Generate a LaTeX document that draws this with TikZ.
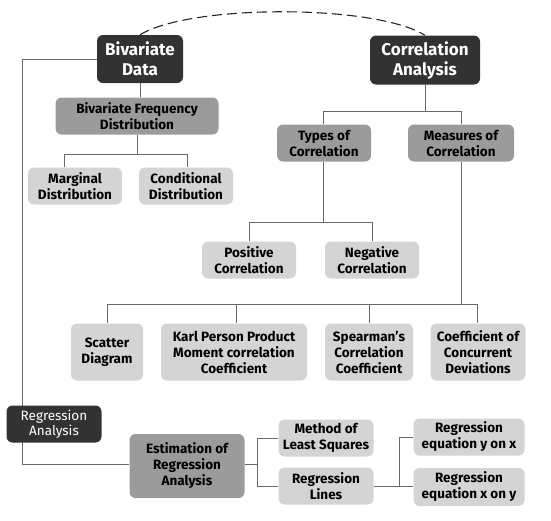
\documentclass[tikz,border=0pt]{standalone}
\usepackage{fontspec}
\setmainfont{Fira Sans}
\usepackage{tikz}
\usetikzlibrary{positioning,calc,backgrounds}
\definecolor{boxdark}{RGB}{50,50,50}
\definecolor{boxmid}{RGB}{155,155,155}
\definecolor{boxlight}{RGB}{212,212,212}
\definecolor{lnk}{RGB}{105,105,105}
\tikzset{
  bx/.style={rounded corners=6pt, align=center, inner sep=0pt},
  dkbox/.style={bx, fill=boxdark, text=white, font=\fontsize{17}{20}\selectfont\bfseries},
  dksm/.style={bx, fill=boxdark, text=white, font=\fontsize{13.5}{15}\selectfont},
  mdbox/.style={bx, fill=boxmid, font=\fontsize{13.5}{16}\selectfont\bfseries},
  ltbox/.style={bx, fill=boxlight, font=\fontsize{13.5}{16}\selectfont\bfseries},
  conn/.style={draw=lnk, line width=0.9pt},
  arcd/.style={draw=black!85, line width=1.1pt, dash pattern=on 10pt off 5pt},
}
\begin{document}
\begin{tikzpicture}[x=1pt, y=-1pt]
  \useasboundingbox (0,0) rectangle (551,520);
  % top level
  \node[dkbox, minimum width=86, minimum height=48] (bdata) at (140,59) {Bivariate\\Data};
  \node[dkbox, minimum width=110, minimum height=49] (canal) at (425,60) {Correlation\\Analysis};
  % bivariate branch
  \node[mdbox, minimum width=163, minimum height=37] (bfd) at (137,116) {Bivariate Frequency\\Distribution};
  \node[ltbox, minimum width=94, minimum height=37] (marg) at (75,186) {Marginal\\Distribution};
  \node[ltbox, minimum width=94, minimum height=37] (cond) at (186,186) {Conditional\\Distribution};
  % correlation branch
  \node[mdbox, minimum width=94, minimum height=37] (types) at (324,143) {Types of\\Correlation};
  \node[mdbox, minimum width=106, minimum height=37] (meas) at (461,143) {Measures of\\Correlation};
  \node[ltbox, minimum width=94, minimum height=37] (pos) at (249,260) {Positive\\Correlation};
  \node[ltbox, minimum width=94, minimum height=37] (neg) at (372,260) {Negative\\Correlation};
  \node[ltbox, minimum width=72, minimum height=57] (scat) at (107,352) {Scatter\\Diagram};
  \node[ltbox, minimum width=146, minimum height=57] (karl) at (234,352) {Karl Person Product\\Moment correlation\\Coefficient};
  \node[ltbox, minimum width=88, minimum height=57] (spear) at (369,352) {Spearman's\\Correlation\\Coefficient};
  \node[ltbox, minimum width=95, minimum height=57] (ccd) at (478,352) {Coefficient of\\Concurrent\\Deviations};
  % regression branch
  \node[dksm, minimum width=95, minimum height=37] (ranal) at (54,424) {Regression\\Analysis};
  \node[mdbox, minimum width=115, minimum height=64] (est) at (187,466) {Estimation of\\Regression\\Analysis};
  \node[ltbox, minimum width=95, minimum height=37] (mls) at (326,438) {Method of\\Least Squares};
  \node[ltbox, minimum width=95, minimum height=37] (rlin) at (326,486) {Regression\\Lines};
  \node[ltbox, minimum width=111, minimum height=37] (ryx) at (469,437) {Regression\\equation y on x};
  \node[ltbox, minimum width=111, minimum height=38] (rxy) at (469,487) {Regression\\equation x on y};

  \begin{scope}[on background layer]
    \coordinate (bl) at (22,464);
    \coordinate (mL) at (64,154);
    \coordinate (cR) at (187,154);
    \coordinate (tL) at (323,111);
    \coordinate (mR) at (461,111);
    \coordinate (pL) at (249,222);
    \coordinate (nR) at (372,222);
    \coordinate (sL) at (107,304);
    \coordinate (kM) at (236,304);
    \coordinate (sM) at (369,304);
    \coordinate (cRt) at (477,304);
    \coordinate (ej) at (257,464);
    \coordinate (lj) at (399,486);
    \draw[arcd] (bdata.north) .. controls (190,4) and (375,4) .. (canal.north);
    \draw[conn] (bdata.south) -- (bdata.south |- bfd.north);
    \draw[conn] (bfd.south) -- (bfd.south |- mL);
    \draw[conn] (mL |- marg.north) -- (mL) -- (cR) -- (cR |- cond.north);
    \draw[conn] (canal.south) -- (canal.south |- tL);
    \draw[conn] (types.north -| tL) -- (tL) -- (mR) -- (meas.north -| mR);
    \draw[conn] (types.south -| tL) -- (tL |- pL);
    \draw[conn] (pos.north -| pL) -- (pL) -- (nR) -- (neg.north -| nR);
    \draw[conn] (meas.south -| mR) -- (mR |- sL);
    \draw[conn] (scat.north -| sL) -- (sL) -- (cRt) -- (ccd.north -| cRt);
    \draw[conn] (kM) -- (karl.north -| kM);
    \draw[conn] (sM) -- (spear.north -| sM);
    \draw[conn] (bdata.west) -| (bl) -- (est.west |- bl);
    \draw[conn] (est.east |- ej) -- (ej);
    \draw[conn] (mls.west) -- (ej |- mls.west) -- (ej |- rlin.west) -- (rlin.west);
    \draw[conn] (rlin.east) -- (lj);
    \draw[conn] (ryx.west) -- (lj |- ryx.west) -- (lj) -- (rxy.west |- lj);
  \end{scope}
\end{tikzpicture}
\end{document}
